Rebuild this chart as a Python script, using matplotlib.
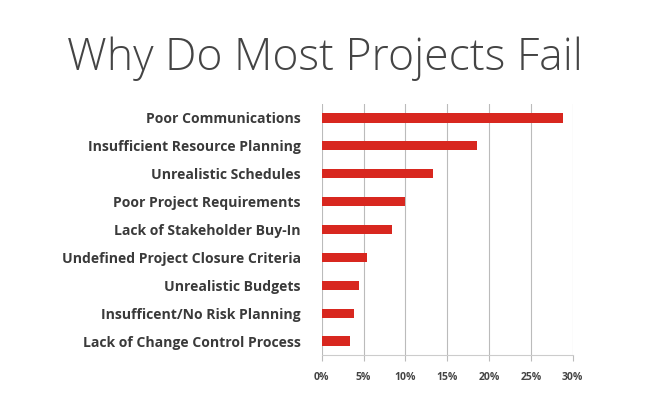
import matplotlib.pyplot as plt
from matplotlib.ticker import FuncFormatter

causes = [
    "Poor Communications",
    "Insufficient Resource Planning",
    "Unrealistic Schedules",
    "Poor Project Requirements",
    "Lack of Stakeholder Buy-In",
    "Undefined Project Closure Criteria",
    "Unrealistic Budgets",
    "Insufficent/No Risk Planning",
    "Lack of Change Control Process",
]
percent = [28.8, 18.6, 13.3, 10.0, 8.4, 5.4, 4.5, 3.9, 3.4]
ticks = [0, 5, 10, 15, 20, 25, 30]

fig = plt.figure(figsize=(6.5, 4.01), dpi=100)
ax = fig.add_axes([321.7 / 650, 46 / 401, 251 / 650, 251 / 401])

y = list(range(len(causes)))
ax.barh(y, percent, height=0.33, color="#d8271f", zorder=3)
ax.set_ylim(len(causes) - 0.5, -0.5)
ax.set_xlim(0, 30)
ax.set_xticks(ticks)
ax.xaxis.set_major_formatter(FuncFormatter(lambda v, p: f"{int(v)}%"))
ax.set_yticks(y)
ax.set_yticklabels(causes, fontfamily="Open Sans", fontweight="bold",
                   fontsize=10.1, color="#3a3a3a")
for lab in ax.get_xticklabels():
    lab.set_fontfamily("Open Sans")
    lab.set_fontweight("bold")
    lab.set_fontsize(7.5)
    lab.set_color("#444444")

ax.grid(axis="x", color="#bbbbbb", linewidth=0.8, zorder=0)
for side in ["top", "right", "left"]:
    ax.spines[side].set_visible(False)
ax.spines["bottom"].set_color("#cccccc")
ax.spines["bottom"].set_linewidth(0.8)
ax.tick_params(axis="x", length=4, color="#bbbbbb", pad=8)
ax.tick_params(axis="y", length=0, pad=15)

fig.text(0.5, 1 - 70 / 401, "Why Do Most Projects Fail", ha="center",
         va="baseline", fontsize=32, fontfamily="Open Sans",
         fontweight="light", color="#444444")

fig.savefig("out.png", dpi=100, facecolor="white")
